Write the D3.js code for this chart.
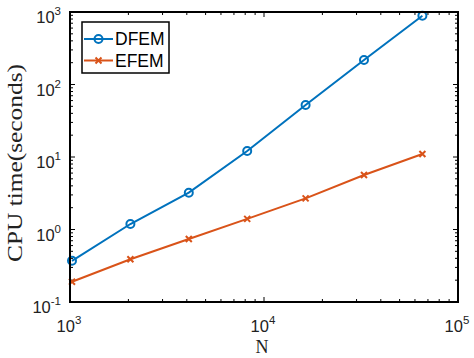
<!DOCTYPE html>
<html><head><meta charset="utf-8">
<script src="https://cdn.jsdelivr.net/npm/d3@7"></script>
<style>body{margin:0;background:#fff}svg{display:block}</style>
</head><body><svg id="c" width="474" height="358"></svg>
<script>
const N = [1024, 2048, 4096, 8192, 16384, 32768, 65536];
const dfem = [0.37, 1.19, 3.22, 12.1, 52.1, 218, 889];
const efem = [0.19, 0.388, 0.74, 1.40, 2.69, 5.65, 11.0];
const seriesNames = ["DFEM", "EFEM"];
const seriesColors = ["#0072BD", "#D95319"];
const xTicks = [1e3, 1e4, 1e5];
const xTickLabels = [["10","3"],["10","4"],["10","5"]];
const yTicks = [1e-1, 1e0, 1e1, 1e2, 1e3];
const yTickLabels = [["10","-1"],["10","0"],["10","1"],["10","2"],["10","3"]];
const xTitle = "N";
const yTitle = "CPU time(seconds)";

const svg = d3.select("#c");
const L = 70, R = 458, T = 12, B = 302;
const x = d3.scaleLog().domain([1e3, 1e5]).range([L, R]);
const y = d3.scaleLog().domain([1e-1, 1e3]).range([B, T]);

// minor ticks
const minorX = [], minorY = [];
for (let d = 3; d < 5; d++) for (let k = 2; k <= 9; k++) minorX.push(k * Math.pow(10, d));
for (let d = -1; d < 3; d++) for (let k = 2; k <= 9; k++) minorY.push(k * Math.pow(10, d));

const g = svg.append("g");
const tk = g.append("g").attr("stroke", "#000").attr("stroke-width", 1);
minorX.forEach(v => {
  tk.append("line").attr("x1", x(v)).attr("x2", x(v)).attr("y1", B).attr("y2", B - 3);
  tk.append("line").attr("x1", x(v)).attr("x2", x(v)).attr("y1", T).attr("y2", T + 3);
});
xTicks.forEach(v => {
  tk.append("line").attr("x1", x(v)).attr("x2", x(v)).attr("y1", B).attr("y2", B - 5);
  tk.append("line").attr("x1", x(v)).attr("x2", x(v)).attr("y1", T).attr("y2", T + 5);
});
minorY.forEach(v => {
  tk.append("line").attr("y1", y(v)).attr("y2", y(v)).attr("x1", L).attr("x2", L + 3);
  tk.append("line").attr("y1", y(v)).attr("y2", y(v)).attr("x1", R).attr("x2", R - 3);
});
yTicks.forEach(v => {
  tk.append("line").attr("y1", y(v)).attr("y2", y(v)).attr("x1", L).attr("x2", L + 5);
  tk.append("line").attr("y1", y(v)).attr("y2", y(v)).attr("x1", R).attr("x2", R - 5);
});

// data
const line = d3.line().x((d, i) => x(N[i])).y(d => y(d));
[dfem, efem].forEach((s, si) => {
  g.append("path").attr("d", line(s)).attr("fill", "none")
    .attr("stroke", seriesColors[si]).attr("stroke-width", 2);
});
dfem.forEach((v, i) => {
  g.append("circle").attr("cx", x(N[i])).attr("cy", y(v)).attr("r", 4)
    .attr("fill", "none").attr("stroke", seriesColors[0]).attr("stroke-width", 2);
});
function cross(sel, cx, cy, r, col) {
  sel.append("path").attr("d", `M${cx-r},${cy-r}L${cx+r},${cy+r}M${cx-r},${cy+r}L${cx+r},${cy-r}`)
    .attr("stroke", col).attr("stroke-width", 2).attr("fill", "none");
}
efem.forEach((v, i) => cross(g, x(N[i]), y(v), 3, seriesColors[1]));

// box
g.append("rect").attr("x", L).attr("y", T).attr("width", R - L).attr("height", B - T)
  .attr("fill", "none").attr("stroke", "#000").attr("stroke-width", 2);

// tick labels
const font = "'Liberation Sans', Arial, sans-serif";
xTicks.forEach((v, i) => {
  const t = g.append("text").attr("x", x(v) - 1).attr("y", 332).attr("text-anchor", "middle")
    .attr("font-family", font).attr("font-size", 16.5).attr("fill", "#222");
  t.append("tspan").text(xTickLabels[i][0]);
  t.append("tspan").attr("dy", -8).attr("font-size", 11.5).text(xTickLabels[i][1]);
});
yTicks.forEach((v, i) => {
  const t = g.append("text").attr("x", 61).attr("y", y(v) + 11).attr("text-anchor", "end")
    .attr("font-family", font).attr("font-size", 16.5).attr("fill", "#222");
  t.append("tspan").text(yTickLabels[i][0]);
  t.append("tspan").attr("dy", -8).attr("font-size", 11.5).text(yTickLabels[i][1]);
});

// axis titles
const serif = "'Liberation Serif', 'Times New Roman', serif";
g.append("text").attr("x", 262).attr("y", 353).attr("text-anchor", "middle")
  .attr("font-family", serif).attr("font-size", 18).attr("fill", "#222").text(xTitle);
g.append("text").attr("transform", "translate(22,163) rotate(-90)").attr("text-anchor", "middle")
  .attr("font-family", serif).attr("font-size", 20).attr("fill", "#222")
  .attr("textLength", 198).attr("lengthAdjust", "spacingAndGlyphs").text(yTitle);

// legend
const lg = g.append("g");
lg.append("rect").attr("x", 82).attr("y", 22).attr("width", 87).attr("height", 51)
  .attr("fill", "#fff").attr("stroke", "#000").attr("stroke-width", 1.5);
seriesNames.forEach((nm, i) => {
  const cy = 39 + i * 21.5;
  lg.append("line").attr("x1", 84).attr("x2", 113).attr("y1", cy).attr("y2", cy)
    .attr("stroke", seriesColors[i]).attr("stroke-width", 2);
  if (i === 0) lg.append("circle").attr("cx", 98.5).attr("cy", cy).attr("r", 4)
    .attr("fill", "none").attr("stroke", seriesColors[0]).attr("stroke-width", 2);
  else cross(lg, 98.5, cy, 3, seriesColors[1]);
  lg.append("text").attr("x", 115).attr("y", cy + 6).attr("font-family", font)
    .attr("font-size", 17.5).attr("fill", "#000").text(nm);
});
</script></body></html>
